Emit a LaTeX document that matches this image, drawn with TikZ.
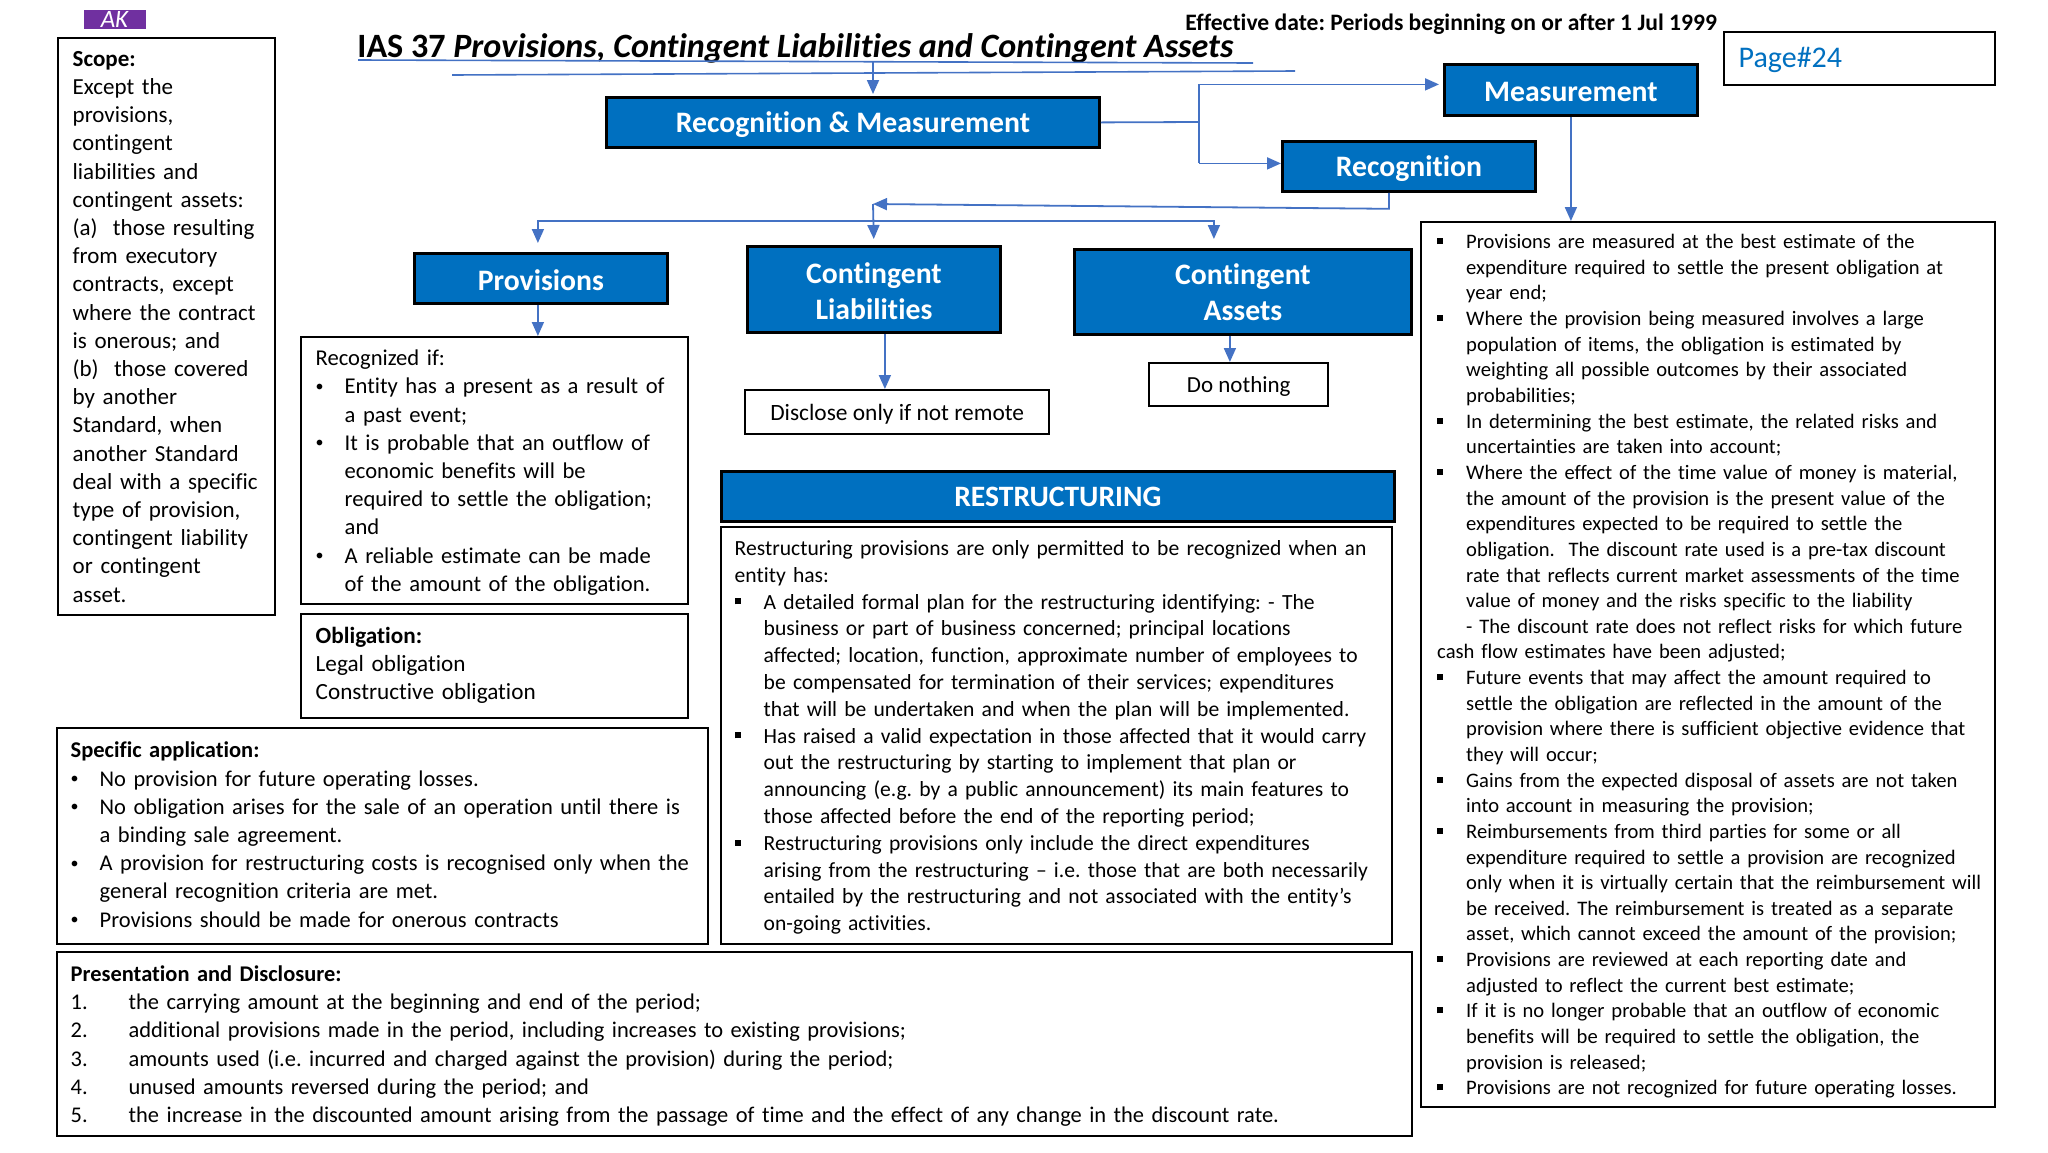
\documentclass[tikz,border=0pt]{standalone}
\usepackage{fontspec}
\setmainfont{Carlito}[Ligatures=NoCommon]
\usetikzlibrary{arrows.meta}
\definecolor{boxblue}{HTML}{0070C0}
\definecolor{linkblue}{HTML}{4472C4}
\definecolor{logopurple}{HTML}{7030A0}
\newlength{\itemind}
\setlength{\itemind}{14.5pt}
\newcommand{\hangitem}[2]{\par\begingroup\let\\\newline\hangindent=\itemind\hangafter=1\noindent\hbox to\itemind{#1\hfill}#2\par\endgroup}
\newcommand{\bul}[1]{\hangitem{\raisebox{.12em}{\fontsize{8pt}{8pt}\selectfont\textbullet}}{#1}}
\newcommand{\squ}[1]{\hangitem{\rule[.22em]{3pt}{3pt}}{#1}}
\newcommand{\num}[2]{\par\noindent\hbox to 29pt{#1\hfill}#2\par}
\newcommand{\tailgap}[1]{\par\nointerlineskip\hbox{\rule{0pt}{#1}}}
\newcommand{\headgap}[1]{\rule{0pt}{#1}}
\tikzset{
  bluebox/.style={draw=black,line width=1.4pt,fill=boxblue,text=white,anchor=north west,inner sep=0pt,align=center,
    font=\fontsize{14.85pt}{18pt}\selectfont\bfseries},
  textbox/.style={draw=black,line width=1.2pt,fill=white,anchor=north west,inner ysep=0pt,inner xsep=7pt,align=left,
    font=\fontsize{11.3pt}{14.1pt}\selectfont\frenchspacing},
  midbox/.style={textbox,inner xsep=6pt,font=\fontsize{10.8pt}{13.4pt}\selectfont\frenchspacing},
  rightbox/.style={textbox,font=\fontsize{10.3pt}{12.82pt}\selectfont\frenchspacing},
  conn/.style={draw=linkblue,line width=.9pt},
  rulel/.style={draw=linkblue,line width=.8pt}
}
\begin{document}
\begin{tikzpicture}[x=.5pt,y=-.5pt,>={Triangle[length=7pt,width=6pt]}]
\useasboundingbox (0,0) rectangle (2048,1152);
% heading
\node[fill=logopurple,text=white,minimum width=31pt,minimum height=9.5pt,inner sep=0pt,text height=8pt,text depth=0pt,font=\fontsize{12.5pt}{13pt}\selectfont\itshape] (logo) at (114.5,19.5) {AK};
\node[anchor=base west,inner sep=0pt,font=\fontsize{17.05pt}{20pt}\selectfont\bfseries] (title) at (357,57) {IAS 37 \textit{Provisions, Contingent Liabilities and Contingent Assets}};
\node[anchor=base west,inner sep=0pt,font=\fontsize{11.8pt}{14pt}\selectfont\bfseries\frenchspacing] (effdate) at (1185,30) {Effective date: Periods beginning on or after 1 Jul 1999};
\node[textbox,minimum width=135.5pt,minimum height=26.5pt,text width=121pt,text=boxblue,font=\fontsize{15pt}{18pt}\selectfont] (page) at (1723,31) {Page\#24\par\vspace*{-1.5pt}};
\coordinate (titlel) at (358,60);
\coordinate (titler) at (1253,63);
\coordinate (undl) at (452,75);
\coordinate (undr) at (1295,71);
\draw[rulel] (titlel) -- (titler);
\draw[rulel] (undl) -- (undr);
\coordinate (titlejoin) at (873,62);
% blue boxes
\node[bluebox,minimum width=246.5pt,minimum height=25pt] (recm) at (605,96) {\headgap{13pt}Recognition \& Measurement};
\node[bluebox,minimum width=126.5pt,minimum height=25.5pt] (meas) at (1443,63) {\headgap{12pt}Measurement};
\node[bluebox,minimum width=126.5pt,minimum height=25pt] (recg) at (1281,140) {\headgap{13pt}Recognition};
\node[bluebox,minimum width=126.5pt,minimum height=25pt] (prov) at (413,252) {\headgap{12pt}Provisions};
\node[bluebox,minimum width=126.5pt,minimum height=43pt] (cl) at (746,245) {\headgap{12pt}Contingent\\Liabilities};
\node[bluebox,minimum width=168.5pt,minimum height=42.5pt] (ca) at (1073,248) {Contingent\\Assets};
\node[bluebox,minimum width=336.5pt,minimum height=25pt,font=\fontsize{14.8pt}{18pt}\selectfont\bfseries] (restr) at (720,470) {RESTRUCTURING};
% scope
\node[textbox,minimum width=108.5pt,minimum height=288.5pt,text width=94pt,font=\fontsize{11.5pt}{14.1pt}\selectfont\frenchspacing] (scope) at (57,37) {\textbf{Scope:}\\Except the\\provisions,\\contingent\\liabilities and\\contingent assets:\\(a)\ \ those resulting\\from executory\\contracts, except\\where the contract\\is onerous; and\\(b)\ \ those covered\\by another\\Standard, when\\another Standard\\deal with a specific\\type of provision,\\contingent liability\\or contingent\\asset.};
% recognition conditions
\node[textbox,minimum width=193.5pt,minimum height=133.5pt,text width=179pt] (recif) at (300,336) {\headgap{9.8pt}Recognized if:
\bul{Entity has a present as a result of\\a past event;}
\bul{It is probable that an outflow of\\economic benefits will be\\required to settle the obligation;\\and}
\bul{A reliable estimate can be made\\of the amount of the obligation.}};
\node[textbox,minimum width=193.5pt,minimum height=52pt,text width=179pt,font=\fontsize{11.6pt}{14.1pt}\selectfont] (oblig) at (300,613) {\textbf{Obligation:}\\Legal obligation\\Constructive obligation\tailgap{1pt}};
\node[textbox,minimum width=152pt,minimum height=22pt,inner xsep=0pt,align=center,font=\fontsize{11.7pt}{14.1pt}\selectfont] (disc) at (744,389) {\headgap{9.8pt}Disclose only if not remote};
\node[textbox,minimum width=89.5pt,minimum height=21.5pt,inner xsep=0pt,align=center,font=\fontsize{11.5pt}{14.1pt}\selectfont] (nothing) at (1148,362) {\headgap{9.6pt}Do nothing};
% restructuring text
\node[midbox,minimum width=335.5pt,minimum height=208.5pt,text width=322pt] (restrtxt) at (720,526) {\headgap{9.3pt}Restructuring provisions are only permitted to be recognized when an\\entity has:
\squ{A detailed formal plan for the restructuring identifying: - The\\business or part of business concerned; principal locations\\affected; location, function, approximate number of employees to\\be compensated for termination of their services; expenditures\\that will be undertaken and when the plan will be implemented.}
\squ{Has raised a valid expectation in those affected that it would carry\\out the restructuring by starting to implement that plan or\\announcing (e.g. by a public announcement) its main features to\\those affected before the end of the reporting period;}
\squ{Restructuring provisions only include the direct expenditures\\arising from the restructuring – i.e. those that are both necessarily\\entailed by the restructuring and not associated with the entity’s\\on-going activities.}};
% specific application
\node[textbox,inner xsep=6pt,minimum width=325.5pt,minimum height=108pt,text width=312pt,font=\fontsize{11.25pt}{14.1pt}\selectfont\frenchspacing] (specific) at (56,727) {\textbf{Specific application:}
\bul{No provision for future operating losses.}
\bul{No obligation arises for the sale of an operation until there is\\a binding sale agreement.}
\bul{\mbox{A provision for restructuring costs is recognised only when the}\\general recognition criteria are met.}
\bul{Provisions should be made for onerous contracts}\tailgap{1.5pt}};
% disclosure
\node[textbox,inner xsep=6pt,minimum width=677.5pt,minimum height=92pt,text width=664pt,font=\fontsize{11.22pt}{14.1pt}\selectfont\frenchspacing] (presdisc) at (56,951) {\headgap{9.8pt}\textbf{Presentation and Disclosure:}
\num{1.}{the carrying amount at the beginning and end of the period;}
\num{2.}{additional provisions made in the period, including increases to existing provisions;}
\num{3.}{amounts used (i.e. incurred and charged against the provision) during the period;}
\num{4.}{unused amounts reversed during the period; and}
\num{5.}{the increase in the discounted amount arising from the passage of time and the effect of any change in the discount rate.}};
% measurement text
\node[rightbox,minimum width=287pt,minimum height=442.5pt,text width=271pt] (meastxt) at (1420,221) {%
\squ{Provisions are measured at the best estimate of the\\expenditure required to settle the present obligation at\\year end;}
\squ{Where the provision being measured involves a large\\population of items, the obligation is estimated by\\weighting all possible outcomes by their associated\\probabilities;}
\squ{In determining the best estimate, the related risks and\\uncertainties are taken into account;}
\squ{Where the effect of the time value of money is material,\\the amount of the provision is the present value of the\\expenditures expected to be required to settle the\\obligation.\ \ The discount rate used is a pre-tax discount\\rate that reflects current market assessments of the time\\value of money and the risks specific to the liability\\- The discount rate does not reflect risks for which future}
\par\noindent cash flow estimates have been adjusted;
\squ{Future events that may affect the amount required to\\settle the obligation are reflected in the amount of the\\provision where there is sufficient objective evidence that\\they will occur;}
\squ{Gains from the expected disposal of assets are not taken\\into account in measuring the provision;}
\squ{Reimbursements from third parties for some or all\\expenditure required to settle a provision are recognized\\\mbox{only when it is virtually certain that the reimbursement will}\\be received. The reimbursement is treated as a separate\\asset, which cannot exceed the amount of the provision;}
\squ{Provisions are reviewed at each reporting date and\\adjusted to reflect the current best estimate;}
\squ{If it is no longer probable that an outflow of economic\\benefits will be required to settle the obligation, the\\provision is released;}
\squ{Provisions are not recognized for future operating losses.}\tailgap{4pt}};
% connectors
\coordinate (split) at (1199,122);
\coordinate (hub) at (873,204);
\coordinate (branch) at (873,221);
\draw[conn,->,shorten >=1pt] (titlejoin) -- (titlejoin |- recm.north);
\draw[conn] (recm.east) -- (split);
\draw[conn,->,shorten >=2pt] ([yshift=2.75pt]meas.west -| split) -- ([yshift=2.75pt]meas.west);
\draw[conn,->,shorten >=0pt] ([yshift=1.5pt]recg.west -| split) -- ([yshift=1.5pt]recg.west);
\draw[conn] ([yshift=2.75pt]meas.west -| split) -- ([yshift=1.5pt]recg.west -| split);
\draw[conn,->] ([xshift=-10pt]recg.south) -- ++(0,-8pt) -- (hub);
\draw[conn,->,shorten >=3pt] (hub) -- (cl.north);
\draw[conn,->,shorten >=4.5pt] (branch) -| ([xshift=-1.5pt]prov.north);
\draw[conn,->,shorten >=4.5pt] (branch) -| ([xshift=-14.5pt]ca.north);
\draw[conn,->] ([xshift=-1.5pt]prov.south) -- ([xshift=-1.5pt]prov.south |- recif.north);
\draw[conn,->] ([xshift=5.5pt]cl.south) -- ([xshift=5.5pt]cl.south |- disc.north);
\draw[conn,->] ([xshift=-6.5pt]ca.south) -- ([xshift=-6.5pt]ca.south |- nothing.north);
\draw[conn,->] (meas.south) -- (meas.south |- meastxt.north);
\end{tikzpicture}
\end{document}
